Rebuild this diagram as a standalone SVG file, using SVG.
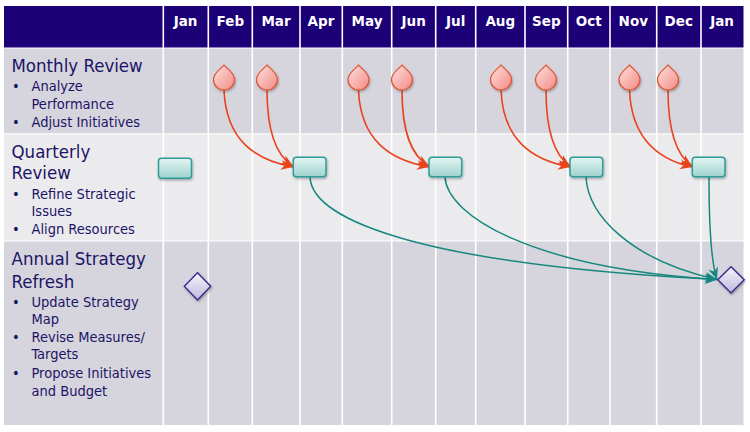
<svg xmlns="http://www.w3.org/2000/svg" width="750" height="432" viewBox="0 0 750 432">
<defs>
<style>
.hdr{font-family:"DejaVu Sans","Liberation Sans",sans-serif;font-weight:bold;font-size:13.5px;fill:#ffffff;text-anchor:middle}
.ttl{font-family:"DejaVu Sans Condensed","DejaVu Sans",sans-serif;font-stretch:condensed;font-size:18.5px;fill:#1b1466}
.bul{font-family:"DejaVu Sans Condensed","DejaVu Sans",sans-serif;font-stretch:condensed;font-size:14.5px;fill:#1b1466}
.red{fill:none;stroke:#e8431a;stroke-width:1.6;marker-end:url(#arR)}
.teal{fill:none;stroke:#16877f;stroke-width:1.5;marker-end:url(#arT)}
.drop{fill:url(#gDrop);stroke:#e0532e;stroke-width:1.2;filter:url(#sh)}
.box{fill:url(#gBox);stroke:#2e9c97;stroke-width:1.5;filter:url(#sh)}
.dia{fill:url(#gDia);stroke:#3b2a8c;stroke-width:1.4;filter:url(#sh)}
.grid{stroke:#ffffff;stroke-width:1.6}
</style>
<linearGradient id="gDrop" x1="0" y1="0" x2="1" y2="1">
<stop offset="0" stop-color="#ffe2e0"/>
<stop offset="1" stop-color="#f28a84"/>
</linearGradient>
<linearGradient id="gBox" x1="0" y1="0" x2="0" y2="1">
<stop offset="0" stop-color="#e3f4f2"/>
<stop offset="1" stop-color="#9fd3ce"/>
</linearGradient>
<linearGradient id="gDia" x1="0" y1="0" x2="0" y2="1">
<stop offset="0" stop-color="#f7f6fc"/>
<stop offset="1" stop-color="#bdb8dc"/>
</linearGradient>
<filter id="sh" x="-30%" y="-30%" width="160%" height="160%">
<feDropShadow dx="0.8" dy="1.5" stdDeviation="1" flood-color="#000" flood-opacity="0.3"/>
</filter>
<marker id="arR" markerUnits="userSpaceOnUse" markerWidth="13" markerHeight="11" refX="12" refY="5" orient="auto" overflow="visible">
<path d="M0,0 L12,5 L0,10 L3.5,5 Z" fill="#e8431a"/>
</marker>
<marker id="arT" markerUnits="userSpaceOnUse" markerWidth="13" markerHeight="11" refX="12" refY="5" orient="auto" overflow="visible">
<path d="M0,0 L12,5 L0,10 L3.5,5 Z" fill="#16877f"/>
</marker>
<path id="drop" d="M0,-14.5 C2.5,-11 10.5,-7 10.5,0 A10.5,10.5 0 1 1 -10.5,0 C-10.5,-7 -2.5,-11 0,-14.5 Z"/>
</defs>
<rect x="0" y="0" width="750" height="432" fill="#ffffff"/>
<g id="grid">
<rect x="4" y="6" width="739.5" height="41.5" fill="#1c0078"/>
<rect x="4" y="48.5" width="739.5" height="84.8" fill="#d6d5dd"/>
<rect x="4" y="134.3" width="739.5" height="106.2" fill="#ebebee"/>
<rect x="4" y="241.5" width="739.5" height="183.5" fill="#d6d5dd"/>
<g class="grid">
<line x1="163.3" y1="6" x2="163.3" y2="425"/>
<line x1="208.3" y1="6" x2="208.3" y2="425"/>
<line x1="252.3" y1="6" x2="252.3" y2="425"/>
<line x1="300" y1="6" x2="300" y2="425"/>
<line x1="342.3" y1="6" x2="342.3" y2="425"/>
<line x1="391.7" y1="6" x2="391.7" y2="425"/>
<line x1="435.7" y1="6" x2="435.7" y2="425"/>
<line x1="475.7" y1="6" x2="475.7" y2="425"/>
<line x1="525" y1="6" x2="525" y2="425"/>
<line x1="567.7" y1="6" x2="567.7" y2="425"/>
<line x1="610" y1="6" x2="610" y2="425"/>
<line x1="656.7" y1="6" x2="656.7" y2="425"/>
<line x1="701" y1="6" x2="701" y2="425"/>
</g>
</g>
<g id="header">
<text class="hdr" x="185.5" y="25.5">Jan</text>
<text class="hdr" x="230.3" y="25.5">Feb</text>
<text class="hdr" x="276" y="25.5">Mar</text>
<text class="hdr" x="321" y="25.5">Apr</text>
<text class="hdr" x="367" y="25.5">May</text>
<text class="hdr" x="413.7" y="25.5">Jun</text>
<text class="hdr" x="455.7" y="25.5">Jul</text>
<text class="hdr" x="500.3" y="25.5">Aug</text>
<text class="hdr" x="546.3" y="25.5">Sep</text>
<text class="hdr" x="588.8" y="25.5">Oct</text>
<text class="hdr" x="633.3" y="25.5">Nov</text>
<text class="hdr" x="678.8" y="25.5">Dec</text>
<text class="hdr" x="722" y="25.5">Jan</text>
</g>
<g id="label-monthly">
<text class="ttl" x="11.5" y="71.5">Monthly Review</text>
<text class="bul" x="12" y="90.5">•</text><text class="bul" x="31.5" y="90.5">Analyze</text>
<text class="bul" x="31.5" y="109">Performance</text>
<text class="bul" x="12" y="127.3">•</text><text class="bul" x="31.5" y="127.3">Adjust Initiatives</text>
</g>
<g id="label-quarterly">
<text class="ttl" x="11.5" y="158.3">Quarterly</text>
<text class="ttl" x="11.5" y="179.3">Review</text>
<text class="bul" x="12" y="199">•</text><text class="bul" x="31.5" y="199">Refine Strategic</text>
<text class="bul" x="31.5" y="216.3">Issues</text>
<text class="bul" x="12" y="234.3">•</text><text class="bul" x="31.5" y="234.3">Align Resources</text>
</g>
<g id="label-annual">
<text class="ttl" x="11.5" y="265">Annual Strategy</text>
<text class="ttl" x="11.5" y="287.7">Refresh</text>
<text class="bul" x="12" y="306.7">•</text><text class="bul" x="31.5" y="306.7">Update Strategy</text>
<text class="bul" x="31.5" y="324">Map</text>
<text class="bul" x="12" y="341.7">•</text><text class="bul" x="31.5" y="341.7">Revise Measures/</text>
<text class="bul" x="31.5" y="359">Targets</text>
<text class="bul" x="12" y="378.3">•</text><text class="bul" x="31.5" y="378.3">Propose Initiatives</text>
<text class="bul" x="31.5" y="396">and Budget</text>
</g>
<g id="connectors">
<path class="red" d="M224,90 C226,140 255,160 293,167"/>
<path class="red" d="M267,90 C267,130 275,155 293,166"/>
<path class="red" d="M358.5,90 C360.5,140 389.5,160 429,167"/>
<path class="red" d="M402,90 C402,130 410,155 429,166"/>
<path class="red" d="M501,90 C503,140 532,160 570,167"/>
<path class="red" d="M546,90 C546,130 554,155 570,166"/>
<path class="red" d="M629.5,90 C631.5,140 660.5,160 692,167"/>
<path class="red" d="M668,90 C668,130 676,155 692,166"/>
<path class="teal" d="M310,177 C312,222 430,265 717,279.5"/>
<path class="teal" d="M445,177 C447,215 530,268 717,279.5"/>
<path class="teal" d="M586,177 C588,215 630,260 717,279.5"/>
<path class="teal" d="M709,177 C709,220 711,262 717,279.5"/>
</g>
<g id="m-feb"><use href="#drop" class="drop" x="224" y="79.5"/></g>
<g id="m-mar"><use href="#drop" class="drop" x="267" y="79.5"/></g>
<g id="m-may"><use href="#drop" class="drop" x="358.5" y="79.5"/></g>
<g id="m-jun"><use href="#drop" class="drop" x="402" y="79.5"/></g>
<g id="m-aug"><use href="#drop" class="drop" x="501" y="79.5"/></g>
<g id="m-sep"><use href="#drop" class="drop" x="546" y="79.5"/></g>
<g id="m-nov"><use href="#drop" class="drop" x="629.5" y="79.5"/></g>
<g id="m-dec"><use href="#drop" class="drop" x="668" y="79.5"/></g>
<g id="q-jan"><rect class="box" x="158.5" y="158.3" width="33" height="20" rx="3"/></g>
<g id="q-apr"><rect class="box" x="293.3" y="157.3" width="32.7" height="19.5" rx="3"/></g>
<g id="q-jul"><rect class="box" x="429" y="157.3" width="32.7" height="19.5" rx="3"/></g>
<g id="q-oct"><rect class="box" x="570" y="157.3" width="32.7" height="19.5" rx="3"/></g>
<g id="q-jan2"><rect class="box" x="692.3" y="157.3" width="32.7" height="19.5" rx="3"/></g>
<g id="a-jan"><polygon class="dia" points="197.5,272.7 210.7,286.3 197.5,299.9 184.3,286.3"/></g>
<g id="a-jan2"><polygon class="dia" points="731,266.7 744.2,279.8 731,292.9 717.8,279.8"/></g>
</svg>
